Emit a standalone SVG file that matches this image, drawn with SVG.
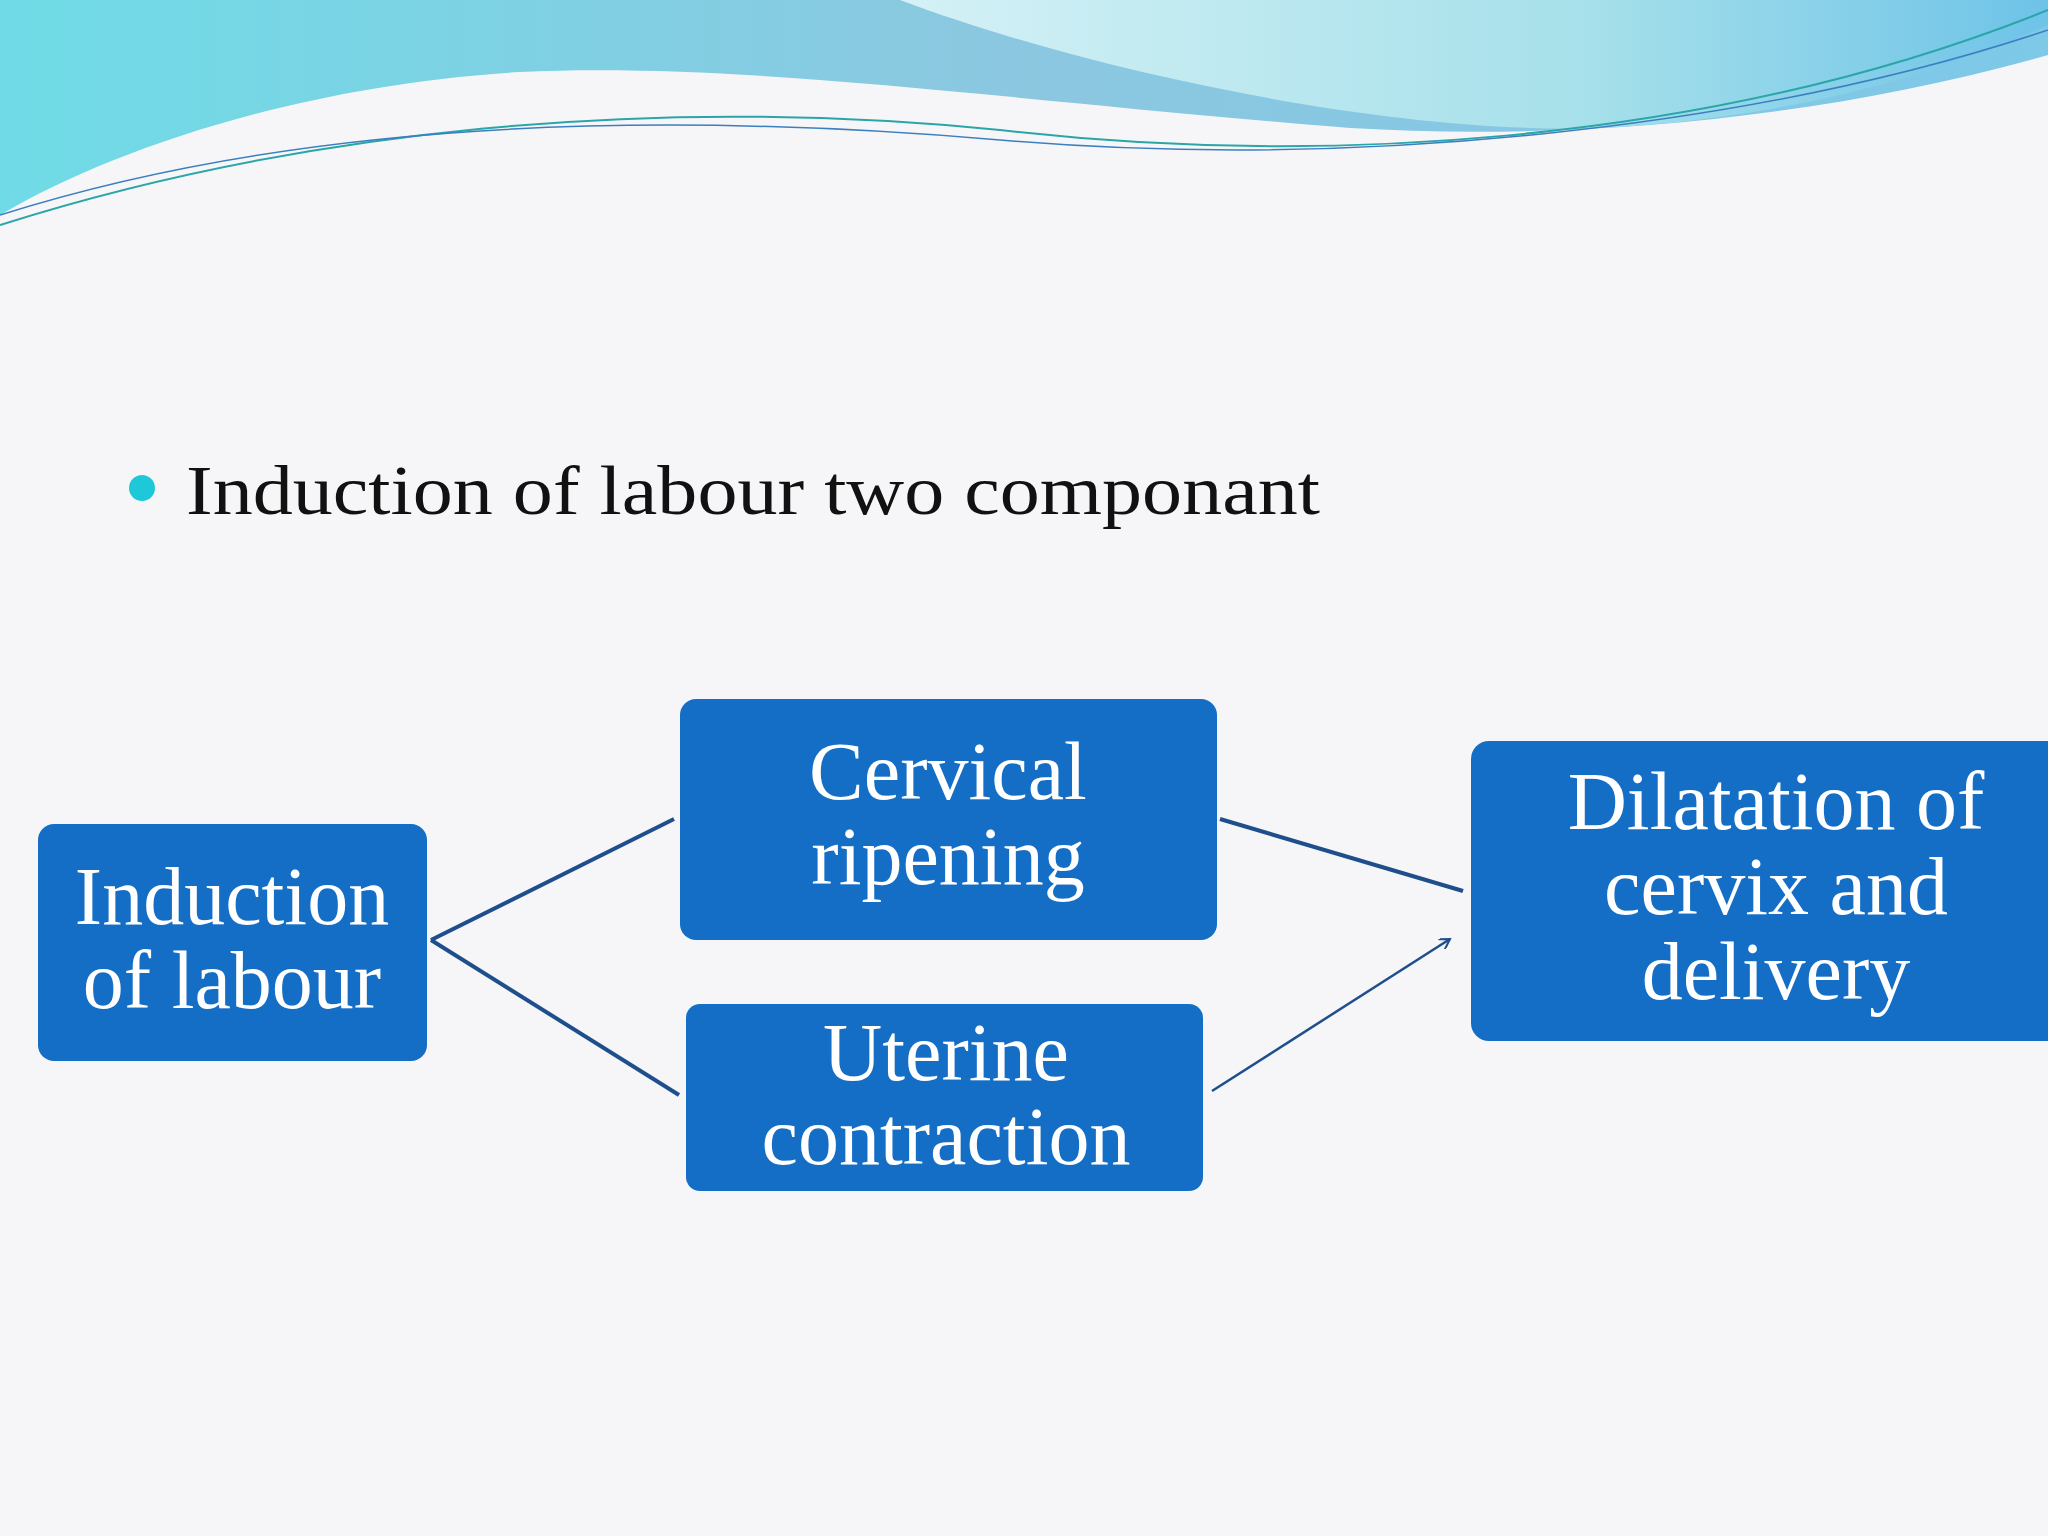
<svg xmlns="http://www.w3.org/2000/svg" width="2048" height="1536" viewBox="0 0 2048 1536">
<defs>
<linearGradient id="g1" x1="0" y1="0" x2="1" y2="0"><stop offset="0" stop-color="#6fdbe6"/><stop offset="0.5" stop-color="#8cc7e0"/><stop offset="1" stop-color="#7ec8e8"/></linearGradient>
<linearGradient id="g2" x1="0" y1="0" x2="1" y2="0"><stop offset="0" stop-color="#d4f1f6"/><stop offset="0.6" stop-color="#a6e0ea"/><stop offset="1" stop-color="#6ec3e8"/></linearGradient>
<marker id="ah" markerWidth="12" markerHeight="12" refX="10" refY="6" orient="auto" markerUnits="userSpaceOnUse"><path d="M0,0 L10,6 L0,12" fill="none" stroke="#1f4e8c" stroke-width="2"/></marker>
<style>
.box{fill:#146ec6}
.t{font-family:"Liberation Serif","DejaVu Serif",serif;font-size:82px;fill:#fff;text-anchor:middle}
.c{stroke:#1f4e8c;stroke-width:4;fill:none}
</style>
</defs>
<rect width="2048" height="1536" fill="#f6f6f8"/>
<path d="M0,0 L2048,0 L2048,55 C1800,125 1550,140 1350,128 C1000,100 750,62 520,72 C300,85 110,150 0,215 Z" fill="url(#g1)"/>
<path d="M900,0 C1100,75 1400,135 1600,128 C1800,118 1950,70 2048,25 V0 Z" fill="url(#g2)"/>
<path d="M0,225 C300,130 650,95 1000,130 C1300,165 1700,150 2048,10" fill="none" stroke="#2aa5a8" stroke-width="2"/>
<path d="M0,215 C300,120 650,110 1000,140 C1350,170 1750,130 2048,30" fill="none" stroke="#3b7fc0" stroke-width="1.5"/>
<circle cx="142" cy="488" r="13" fill="#1ec8d8"/>
<text x="186" y="514" font-family="Liberation Serif,DejaVu Serif,serif" font-size="70" fill="#111" textLength="1134" lengthAdjust="spacingAndGlyphs">Induction of labour two componant</text>
<g id="connectors">
<line class="c" x1="431" y1="940" x2="674" y2="819"/>
<line class="c" x1="431" y1="940" x2="679" y2="1095"/>
<line class="c" x1="1220" y1="819" x2="1463" y2="891"/>
<line stroke="#1f4e8c" stroke-width="2.5" x1="1212" y1="1091" x2="1450" y2="939" marker-end="url(#ah)"/>
</g>
<g id="n1"><rect class="box" x="38" y="824" width="389" height="237" rx="16"/><text class="t" x="232" y="924">Induction</text><text class="t" x="232" y="1008">of labour</text></g>
<g id="n2"><rect class="box" x="680" y="699" width="537" height="241" rx="16"/><text class="t" x="948" y="799">Cervical</text><text class="t" x="948" y="884">ripening</text></g>
<g id="n3"><rect class="box" x="686" y="1004" width="517" height="187" rx="14"/><text class="t" x="946" y="1080">Uterine</text><text class="t" x="946" y="1164">contraction</text></g>
<g id="n4"><rect class="box" x="1471" y="741" width="600" height="300" rx="18"/><text class="t" x="1776" y="829">Dilatation of</text><text class="t" x="1776" y="914">cervix and</text><text class="t" x="1776" y="999">delivery</text></g>
</svg>
